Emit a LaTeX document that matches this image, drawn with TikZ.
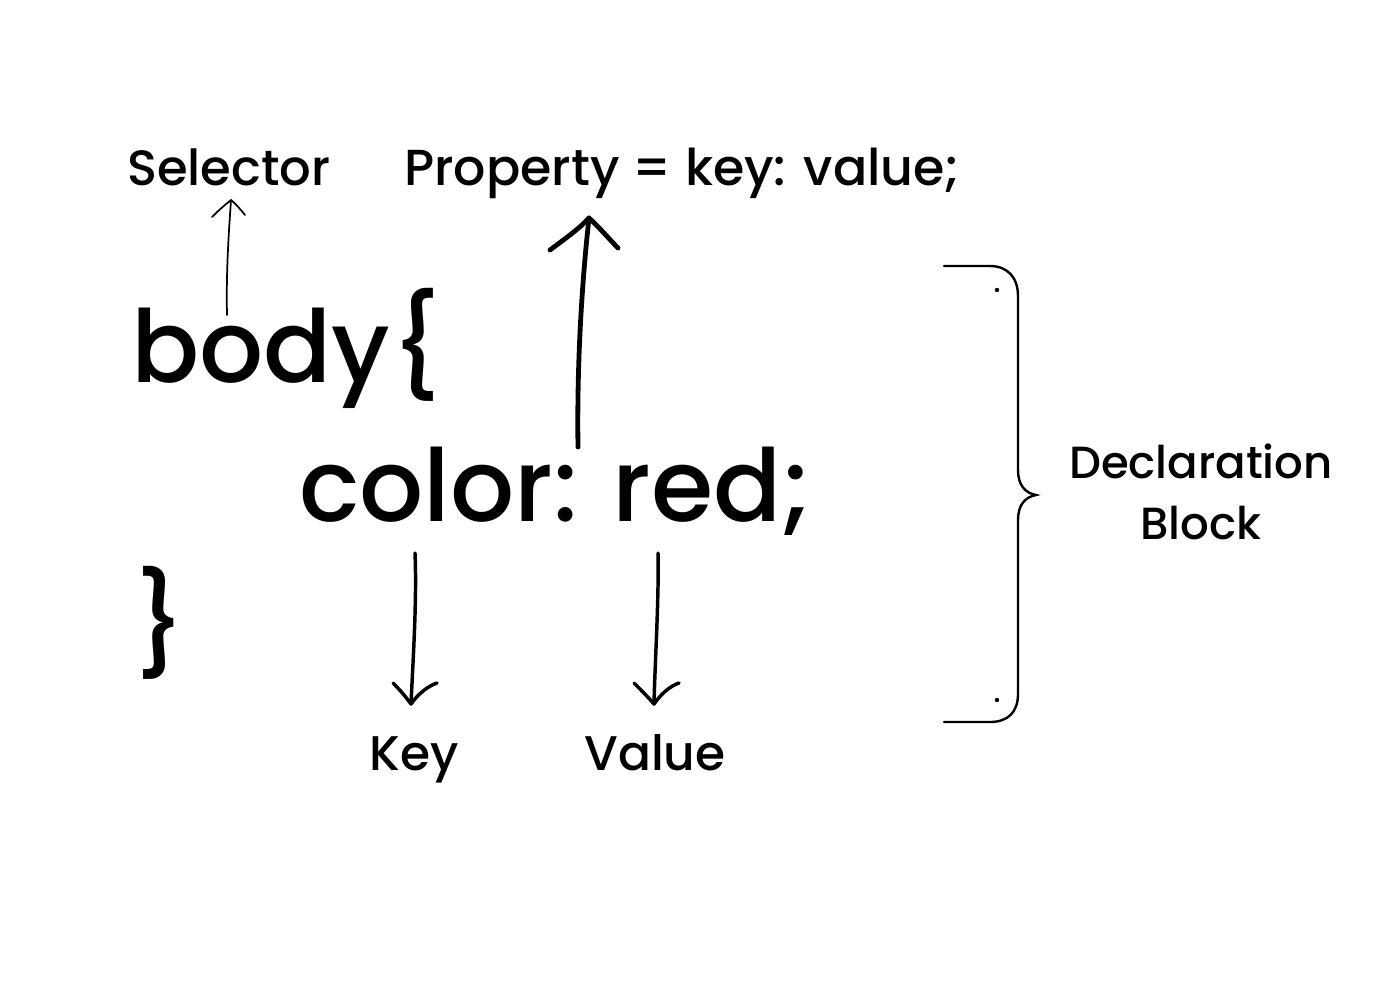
\documentclass[tikz,border=0pt]{standalone}
\usepackage{fontspec}
\setmainfont{Poppins}[UprightFont={* Medium}]
\begin{document}
\begin{tikzpicture}[x=0.75pt,y=-0.75pt,
  lbl/.style={inner sep=0pt,anchor=base west,font=\fontsize{38}{46}\selectfont},
  big/.style={inner sep=0pt,anchor=base west,font=\fontsize{75.5}{90}\selectfont},
  side/.style={inner sep=0pt,anchor=base,font=\fontsize{33.8}{42}\selectfont},
  hand/.style={line cap=round,line join=round},
  thinarrow/.style={hand,line width=1.3pt},
  midarrow/.style={hand,line width=2.6pt},
  thickarrow/.style={hand,line width=3.6pt},
  bracestyle/.style={line width=1.8pt,line cap=round}]
\useasboundingbox (0,0) rectangle (1400,990);
\fill[white] (0,0) rectangle (1400,990);
% texts
\node[lbl,font=\fontsize{37.2}{46}\selectfont] (selector) at (127,185) {Selector};
\node[lbl] (property) at (404,185) {Property = key: value;};
\node[big] (body) at (131,382) {body\{};
\node[big] (decl) at (299,521) {color: red;};
\node[big] (close) at (134,660) {\}};
\node[side] (declblock) at (1201,478) {Declaration};
\node[side] (blockw) at (1201,539) {Block};
\node[lbl,font=\fontsize{36.5}{44}\selectfont] (key) at (369,770) {Key};
\node[lbl,font=\fontsize{36.5}{44}\selectfont] (value) at (584,770) {Value};
% selector arrow
\coordinate (s0) at (227,315);
\coordinate (s1) at (231,200);
\draw[thinarrow] (s0) .. controls (226,270) and (229,230) .. (s1);
\draw[thinarrow] (212,217) .. controls (220,209) and (226,204) .. (s1) .. controls (236,204) and (241,210) .. (245,215);
% property arrow
\coordinate (p0) at (578,447);
\coordinate (p1) at (589,218);
\draw[thickarrow] (p0) .. controls (577,380) and (580,300) .. (p1);
\draw[thickarrow] (550,250) .. controls (566,238) and (580,228) .. (p1) .. controls (600,228) and (610,240) .. (618,248);
% key arrow
\coordinate (k0) at (415,553);
\coordinate (k1) at (411,704);
\draw[midarrow] (k0) .. controls (417,600) and (413,660) .. (k1);
\draw[midarrow] (393,683) .. controls (400,690) and (406,697) .. (k1) .. controls (418,694) and (428,686) .. (437,683);
% value arrow
\coordinate (v0) at (658,553);
\coordinate (v1) at (654,704);
\draw[midarrow] (v0) .. controls (659,600) and (655,660) .. (v1);
\draw[midarrow] (634,683) .. controls (641,690) and (648,697) .. (v1) .. controls (661,694) and (670,686) .. (679,683);
% declaration brace
\coordinate (bt) at (944,266);
\coordinate (bb) at (944,722);
\coordinate (btip) at (1036,495);
\draw[bracestyle] (bt) -- (990,266) .. controls (1008,266) and (1018,278) .. (1018,296)
  -- (1018,470) .. controls (1018,485) and (1025,493) .. (btip)
  .. controls (1025,497) and (1018,505) .. (1018,520)
  -- (1018,694) .. controls (1018,712) and (1008,722) .. (990,722) -- (bb);
\fill (997,290) circle (2.2);
\fill (997,700) circle (2.2);
\end{tikzpicture}
\end{document}
